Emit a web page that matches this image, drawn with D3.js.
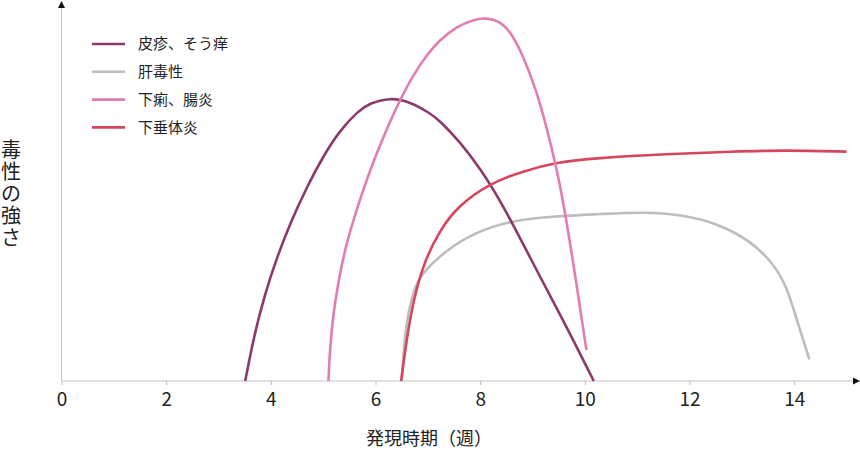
<!DOCTYPE html>
<html>
<head>
<meta charset="utf-8">
<script src="https://cdn.jsdelivr.net/npm/d3@7"></script>
<style>
  body { margin: 0; background: #fff; }
  text { font-family: "Noto Sans CJK JP", "Noto Sans", sans-serif; fill: #222; }
</style>
</head>
<body>
<div id="chart"></div>
<script>
// series names (legend order) and colours
const seriesNames = ["皮疹、そう痒", "肝毒性", "下痢、腸炎", "下垂体炎"];
const seriesColors = ["#8c3a6b", "#bdbdbd", "#e27db0", "#d6465f"];
const xTitle = "発現時期（週）";
const yTitle = "毒性の強さ";

// [week, intensity]
const rash = [[3.51,0],[3.68,12],[3.89,23],[4.11,32.2],[4.37,41.4],[4.69,51],[5.0,59],[5.32,65.8],[5.67,70.9],[5.89,72.9],[6.28,74.4],[6.66,73.3],[7.04,70.3],[7.23,68.3],[7.61,62.8],[8.0,55.8],[8.44,46.2],[9.14,27.4],[9.65,14.3],[10.17,0]];
const liver = [[6.5,0],[6.56,13.4],[6.72,23.9],[6.88,28.3],[7.36,34.4],[7.87,38.8],[8.57,42.1],[9.46,43.3],[10.29,43.8],[11.12,44.4],[11.88,43.6],[12.52,41.4],[13.15,37],[13.6,30.9],[13.86,24.8],[14.05,16],[14.29,5.7]];
const diarrhea = [[5.1,0],[5.13,8.6],[5.19,17.3],[5.29,26.1],[5.42,34.8],[5.58,42.3],[5.77,50.5],[6.02,59.8],[6.28,68.2],[6.47,73.8],[6.72,80.3],[6.98,85.6],[7.23,89.6],[7.55,93],[7.87,94.9],[8.12,95.3],[8.35,94.6],[8.57,92],[8.82,85.5],[9.08,76],[9.27,66.5],[9.43,57.6],[9.59,47.1],[9.84,25.6],[10.03,8.1]];
const pituitary = [[6.49,0],[6.66,17.8],[6.91,30.9],[7.23,39.6],[7.58,46],[8.19,51.9],[8.82,55.1],[9.46,57.4],[10.2,58.5],[11.56,59.6],[12.84,60.2],[13.79,60.6],[15.0,60.2]];

const xTicks = [0, 2, 4, 6, 8, 10, 12, 14];

const W = 860, H = 450;
const svg = d3.select("#chart").append("svg")
    .attr("width", W)
    .attr("height", H);

const x = d3.scaleLinear().domain([0, 15.2]).range([61.5, 857]);
const y = d3.scaleLinear().domain([0, 100]).range([381, 0]);

// x axis
const xAxis = svg.append("g")
    .attr("transform", `translate(0, ${y(0)})`)
    .call(d3.axisBottom(x).tickValues(xTicks).tickSize(4).tickPadding(8).tickFormat(d3.format("d")))
xAxis.select(".domain").remove()
xAxis.selectAll(".tick line").attr("stroke", "#bbb")
xAxis.selectAll(".tick text").attr("font-size", 19).attr("fill", "#222")
    .style("font-family", "'Noto Sans CJK JP', sans-serif")

svg.append("line")
    .attr("x1", x(0)).attr("x2", 853)
    .attr("y1", y(0)).attr("y2", y(0))
    .attr("stroke", "#c4c4c4").attr("stroke-width", 1)
svg.append("path")
    .attr("d", `M853,${y(0) - 3.5}L860,${y(0)}L853,${y(0) + 3.5}Z`)
    .attr("fill", "#111")

// y axis
svg.append("line")
    .attr("x1", x(0)).attr("x2", x(0))
    .attr("y1", y(0)).attr("y2", 7)
    .attr("stroke", "#c4c4c4").attr("stroke-width", 1)
svg.append("path")
    .attr("d", `M${x(0) - 3.5},8L${x(0)},1L${x(0) + 3.5},8Z`)
    .attr("fill", "#111")

// axis titles
svg.append("text")
    .attr("x", 429)
    .attr("y", 445)
    .attr("text-anchor", "middle")
    .attr("font-size", 18)
    .text(xTitle)

// vertical title, one character per line
svg.append("text")
    .attr("text-anchor", "middle")
    .attr("font-size", 20)
    .selectAll("tspan")
    .data(Array.from(yTitle))
    .join("tspan")
      .attr("x", 11)
      .attr("y", (d, i) => 157 + i * 22)
      .text(d => d)

// curves
const line = d3.line()
    .x(d => x(d[0]))
    .y(d => y(d[1]))
    .curve(d3.curveBasis)

const drawOrder = [[liver, 1], [rash, 0], [pituitary, 3], [diarrhea, 2]]
drawOrder.forEach(function(s) {
  svg.append("path")
      .datum(s[0])
      .attr("fill", "none")
      .attr("stroke", seriesColors[s[1]])
      .attr("stroke-width", 2.6)
      .attr("d", line)
})

// legend
const legend = svg.append("g").attr("transform", "translate(92, 44)")
seriesNames.forEach(function(name, i) {
  const g = legend.append("g").attr("transform", `translate(0, ${i * 27.8})`)
  g.append("line")
      .attr("x1", 0).attr("x2", 33)
      .attr("stroke", seriesColors[i])
      .attr("stroke-width", 2.6)
  g.append("text")
      .attr("x", 46)
      .attr("dy", "0.35em")
      .attr("font-size", 15)
      .text(name)
})
</script>
</body>
</html>
